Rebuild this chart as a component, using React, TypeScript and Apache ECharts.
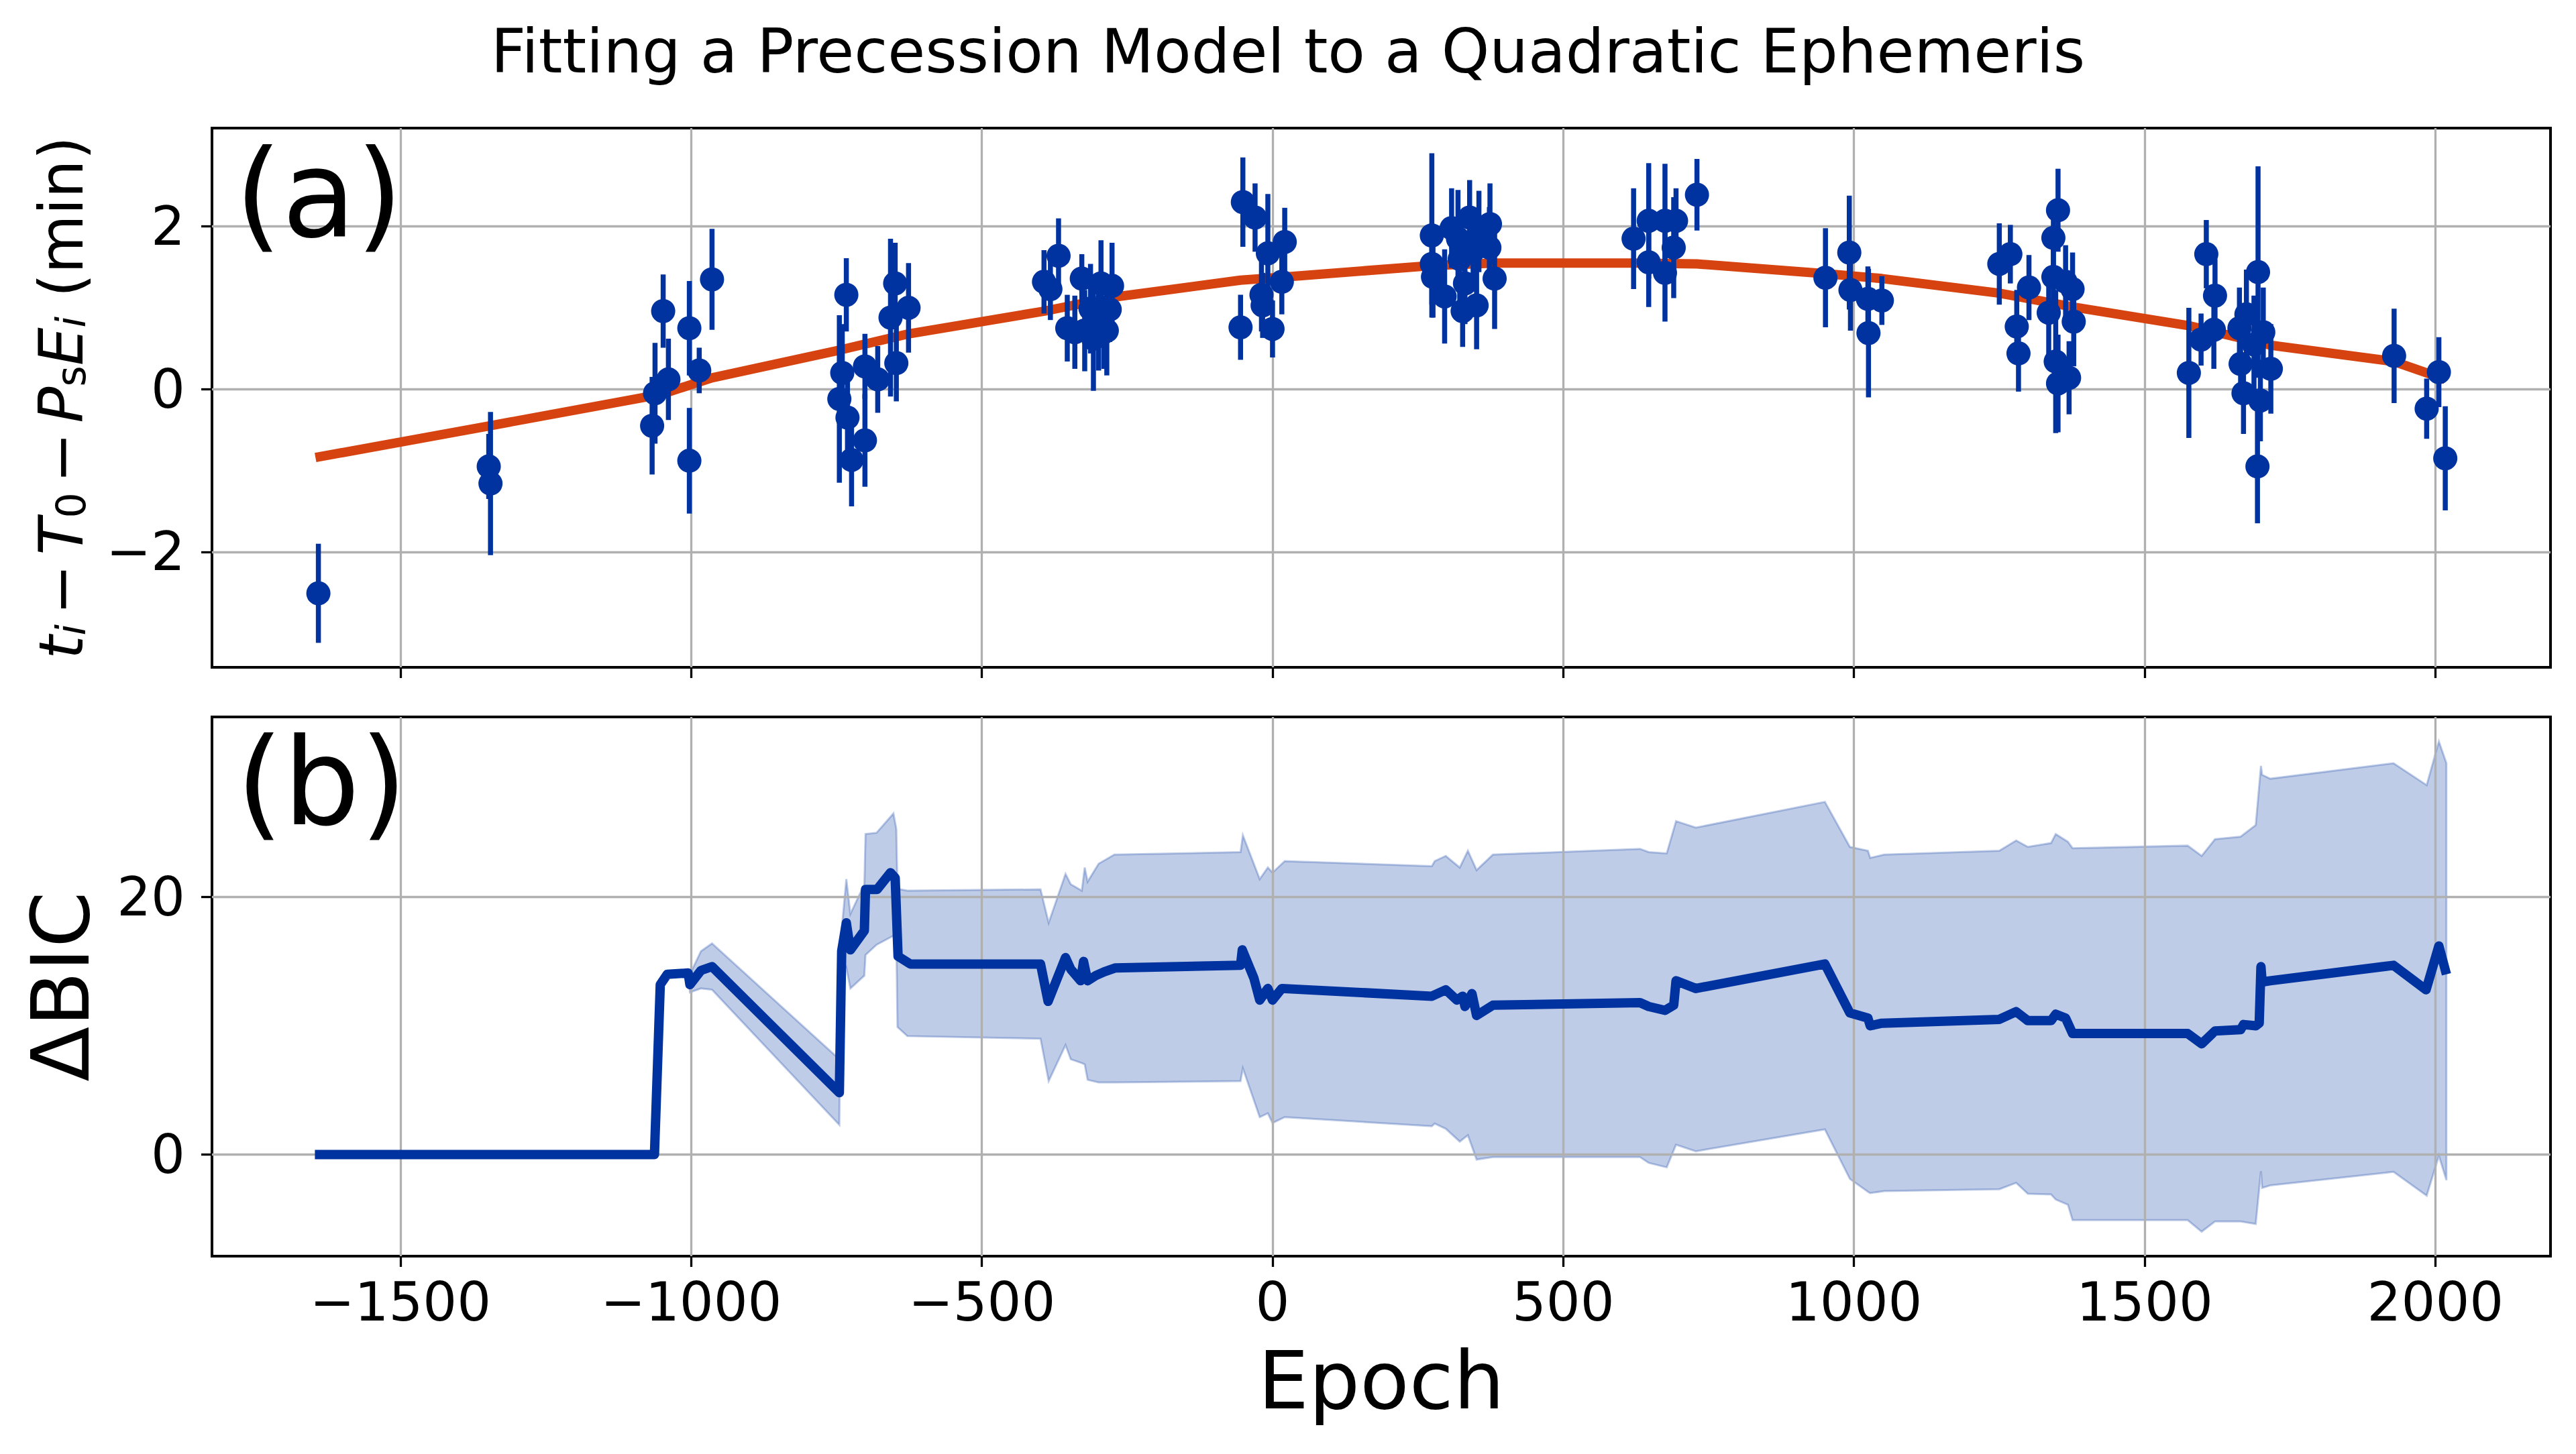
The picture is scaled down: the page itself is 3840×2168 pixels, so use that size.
import React, { useEffect, useRef } from 'react';
import * as echarts from 'echarts';

// Transit-time residuals: epoch, residual (min) and 1-sigma uncertainty (min)
const ttvEpoch = [
  -1641, -1348, -1345, -1067, -1062, -1048, -1039, -1003, -1003, -986, -964,
  -745, -740, -733, -731, -724, -701, -701, -679, -657, -649, -647, -626,
  -393, -382, -368, -353, -340, -328, -323, -313, -308, -299, -295, -290, -285, -280, -276,
  -55, -51, -30, -19, -17, -8, 0, 16, 21,
  274, 274, 276, 296, 308, 319, 322, 327, 331, 339, 345, 351, 355, 373, 374, 382,
  621, 647, 647, 675, 675, 690, 694, 730,
  951, 992, 994, 1024, 1025, 1048,
  1250, 1269, 1280, 1283, 1301, 1335, 1343, 1343, 1347, 1351, 1351, 1364, 1370, 1376, 1378,
  1576, 1597, 1606, 1619, 1621, 1663, 1665, 1670, 1675, 1688, 1694, 1695, 1699, 1704, 1717,
  1929, 1985, 2006, 2017,
];
const ttvResid = [
  -2.51, -0.95, -1.16, -0.45, -0.05, 0.96, 0.12, 0.75, -0.88, 0.23, 1.35,
  -0.12, 0.2, 1.16, -0.35, -0.87, 0.28, -0.63, 0.12, 0.88, 1.3, 0.32, 1.0,
  1.32, 1.23, 1.64, 0.75, 0.7, 1.36, 0.72, 0.99, 0.62, 0.83, 1.3, 0.7, 0.72, 0.98, 1.27,
  0.76, 2.3, 2.11, 1.16, 1.03, 1.67, 0.74, 1.32, 1.81,
  1.89, 1.54, 1.38, 1.14, 1.98, 1.85, 1.6, 0.96, 1.3, 2.11, 1.7, 1.03, 1.94, 1.74, 2.03, 1.36,
  1.85, 2.07, 1.56, 2.07, 1.43, 1.74, 2.07, 2.39,
  1.37, 1.68, 1.22, 1.11, 0.69, 1.09,
  1.54, 1.66, 0.77, 0.44, 1.25, 0.94, 1.86, 1.38, 0.34, 2.2, 0.07, 1.32, 0.14, 1.23, 0.83,
  0.2, 0.61, 1.66, 0.73, 1.15, 0.75, 0.31, -0.05, 0.92, 0.55, -0.95, 1.44, -0.14, 0.7, 0.25,
  0.41, -0.24, 0.21, -0.85,
];
const ttvErr = [
  0.61, 0.4, 0.88, 0.6, 0.62, 0.45, 0.5, 0.58, 0.65, 0.28, 0.62,
  1.03, 0.6, 0.45, 0.55, 0.57, 0.4, 0.57, 0.41, 0.97, 0.5, 0.47, 0.55,
  0.39, 0.38, 0.46, 0.41, 0.45, 0.3, 0.5, 0.55, 0.64, 0.6, 0.53, 0.45, 0.55, 0.4, 0.53,
  0.4, 0.55, 0.42, 0.45, 0.4, 0.73, 0.35, 0.4, 0.42,
  1.01, 0.5, 0.5, 0.58, 0.49, 0.6, 0.55, 0.44, 0.5, 0.46, 0.5, 0.54, 0.5, 0.5, 0.5, 0.62,
  0.62, 0.71, 0.55, 0.7, 0.6, 0.62, 0.4, 0.44,
  0.61, 0.7, 0.5, 0.4, 0.79, 0.3,
  0.5, 0.36, 0.45, 0.47, 0.4, 0.55, 0.4, 0.5, 0.88, 0.51, 0.6, 0.45, 0.45, 0.45, 0.55,
  0.8, 0.32, 0.42, 0.48, 0.45, 0.5, 0.45, 0.5, 0.55, 0.6, 0.7, 1.3, 0.5, 0.55, 0.55,
  0.58, 0.37, 0.43, 0.64,
];

// Best-fit precession model evaluated at the observed epochs
const modelEpoch = [
  -1646, -1346, -1050, -964, -745, -626, -392, -275, -55, 21, 274, 382,
  621, 730, 950, 1048, 1250, 1378, 1576, 1717, 1929, 2017,
];
const modelResid = [
  -0.84, -0.45, -0.06, 0.14, 0.48, 0.68, 0.96, 1.13, 1.34, 1.38, 1.52, 1.55,
  1.55, 1.54, 1.42, 1.36, 1.18, 1.01, 0.78, 0.54, 0.34, 0.12,
];

// Running ΔBIC as epochs are added
const bicEpoch = [
  -1647, -1063, -1053, -1041, -1005, -1002, -983, -964, -745, -741, -733, -726, -702, -700,
  -680, -657, -649, -644, -623, -399, -386, -356, -347, -330, -325, -318, -304, -289, -270,
  -55, -52, -32, -22, -8, 0, 16, 274, 298, 317, 327, 331, 343, 351, 379, 632, 647, 675, 690,
  694, 728, 950, 993, 1024, 1028, 1048, 1250, 1279, 1299, 1339, 1347, 1364, 1376, 1574, 1598,
  1621, 1665, 1670, 1691, 1697, 1700, 1702, 1716, 1928, 1984, 2006, 2019,
];
const bicValue = [
  0, 0, 13.2, 14.0, 14.1, 13.2, 14.3, 14.6, 4.8, 15.8, 18.0, 15.9, 17.4, 20.6,
  20.6, 21.9, 21.5, 15.4, 14.8, 14.8, 11.9, 15.3, 14.4, 13.5, 15.0, 13.5, 13.9, 14.2, 14.5,
  14.7, 15.9, 13.7, 12.0, 12.9, 12.0, 12.9, 12.3, 12.8, 12.0, 12.3, 11.5, 12.5, 10.8, 11.6, 11.8, 11.5, 11.2, 11.6,
  13.5, 12.9, 14.8, 11.0, 10.6, 10.0, 10.2, 10.5, 11.1, 10.4, 10.4, 10.9, 10.6, 9.4, 9.4, 8.6,
  9.6, 9.7, 10.1, 10.0, 10.2, 14.6, 13.4, 13.5, 14.7, 12.8, 16.2, 14.0,
];

// ΔBIC uncertainty envelope
const bandEpoch = [
  -1063, -1053, -1041, -1005, -1002, -983, -964, -745, -743, -733, -726, -702, -700, -681,
  -652, -647, -645, -628, -399, -385, -356, -347, -328, -323, -318, -299, -272, -55, -51,
  -22, -8, 0, 21, 274, 279, 298, 322, 336, 351, 379, 632, 647, 678, 694, 728, 950, 993,
  1024, 1028, 1052, 1250, 1279, 1299, 1339, 1347, 1368, 1376, 1574, 1598, 1621, 1665, 1691,
  1700, 1702, 1716, 1928, 1985, 2006, 2019,
];
const bandLow = [
  0, 13.2, 14.0, 14.1, 12.6, 12.9, 12.8, 2.3, 13.5, 14.5, 12.9, 13.9, 15.5, 16.3,
  17.0, 16.5, 9.9, 9.2, 9.0, 5.7, 8.5, 7.4, 7.1, 7.0, 5.8, 5.6, 5.6, 5.7, 6.7,
  2.9, 3.2, 2.45, 2.9, 2.2, 2.4, 2.0, 1.0, 1.5, -0.4, -0.2, -0.2, -0.65, -1.0, 0.76, 0.25, 1.95, -1.9,
  -2.9, -3.0, -2.85, -2.7, -2.2, -3.05, -3.1, -3.5, -3.9, -5.1, -5.1, -6.0, -5.2, -5.2, -5.4,
  -1.3, -2.6, -2.4, -1.35, -3.2, -0.1, -2.0,
];
const bandHigh = [
  0, 13.2, 14.0, 14.1, 14.0, 15.8, 16.4, 7.4, 16.5, 21.4, 18.7, 21.0, 24.9, 25.0,
  26.5, 25.3, 20.65, 20.5, 20.6, 18.0, 21.8, 21.0, 20.5, 22.3, 21.2, 22.6, 23.3, 23.5, 24.8,
  21.4, 22.3, 21.9, 22.8, 22.4, 22.8, 23.2, 22.3, 23.6, 22.1, 23.3, 23.75, 23.5, 23.4, 25.9, 25.4, 27.4, 23.9,
  23.6, 23.05, 23.3, 23.6, 24.4, 23.9, 24.2, 24.9, 24.3, 23.8, 24.0, 23.2, 24.5, 24.7, 25.6,
  30.2, 29.5, 29.2, 30.4, 28.7, 32.1, 30.4,
];

// Axis ranges and tick positions
const epochRange = [-1824, 2198];
const ttvRange = [-3.42, 3.21];
const bicRange = [-7.9, 34.0];
const epochTicks = [-1500, -1000, -500, 0, 500, 1000, 1500, 2000];
const ttvTicks = [-2, 0, 2];
const bicTicks = [0, 20];

const BLUE = '#0033a0';
const ORANGE = '#d64310';
const FONT = 'DejaVu Sans';

const minusFmt = (v: number) => String(v).replace('-', '\u2212');

function xAxisFor(gridIndex: number, withLabels: boolean) {
  return {
    type: 'value',
    gridIndex,
    min: epochRange[0],
    max: epochRange[1],
    axisLine: { show: false, onZero: false },
    axisTick: {
      show: true,
      customValues: epochTicks,
      length: 16,
      lineStyle: { color: '#000', width: 3.3 },
    },
    axisLabel: {
      show: withLabels,
      customValues: epochTicks,
      formatter: minusFmt,
      margin: 28,
      color: '#000',
      fontFamily: FONT,
      fontSize: 80,
      lineHeight: 80,
    },
    splitLine: { show: true, lineStyle: { color: '#b0b0b0', width: 3.3 } },
    name: withLabels ? 'Epoch' : '',
    nameLocation: 'middle',
    nameGap: 125,
    nameMoveOverlap: false,
    nameTextStyle: { color: '#000', fontFamily: FONT, fontSize: 120, lineHeight: 120 },
  };
}

function yAxisFor(gridIndex: number, range: number[], ticks: number[], name: string, nameGap: number, nameTextStyle: any) {
  return {
    type: 'value',
    gridIndex,
    min: range[0],
    max: range[1],
    axisLine: { show: false, onZero: false },
    axisTick: {
      show: true,
      customValues: ticks,
      length: 16,
      lineStyle: { color: '#000', width: 3.3 },
    },
    axisLabel: {
      show: true,
      customValues: ticks,
      formatter: minusFmt,
      margin: 40,
      color: '#000',
      fontFamily: FONT,
      fontSize: 80,
      lineHeight: 80,
    },
    splitLine: { show: true, lineStyle: { color: '#b0b0b0', width: 3.3 } },
    name,
    nameLocation: 'middle',
    nameRotate: 90,
    nameGap,
    nameMoveOverlap: false,
    nameTextStyle,
  };
}

export default function App() {
  const ref = useRef<HTMLDivElement>(null);

  useEffect(() => {
    if (!ref.current) return;
    const chart = echarts.init(ref.current, undefined, { renderer: 'svg' });

    const pointData = ttvEpoch.map((e, i) => [e, ttvResid[i], ttvErr[i]]);
    const modelData = modelEpoch.map((e, i) => [e, modelResid[i]]);
    const bicData = bicEpoch.map((e, i) => [e, bicValue[i]]);
    const bandData = bandEpoch.map((e, i) => [e, bandLow[i], bandHigh[i]]);

    const mainTxt = { color: '#000', fontFamily: FONT, fontSize: 90, lineHeight: 90 };
    const subTxt = { color: '#000', fontFamily: FONT, fontSize: 60, lineHeight: 40, verticalAlign: 'bottom' };

    const option: any = {
      animation: false,
      backgroundColor: '#ffffff',
      textStyle: { fontFamily: FONT },
      grid: [
        {
          left: 316, top: 191, width: 3486, height: 804,
          show: true, borderColor: '#000', borderWidth: 4, backgroundColor: 'transparent',
          containLabel: false, outerBoundsMode: 'none',
        },
        {
          left: 316, top: 1069, width: 3486, height: 804,
          show: true, borderColor: '#000', borderWidth: 4, backgroundColor: 'transparent',
          containLabel: false, outerBoundsMode: 'none',
        },
      ],
      xAxis: [xAxisFor(0, false), xAxisFor(1, true)],
      yAxis: [
        yAxisFor(
          0, ttvRange, ttvTicks,
          '{i|t}{si|i}{m|\u2212}{i|T}{s|0}{m|\u2212}{i|P}{s|s}{i|E}{si|i}{n| (min)}',
          180,
          {
            rich: {
              i: { ...mainTxt, fontStyle: 'italic' },
              n: { ...mainTxt },
              m: { ...mainTxt, padding: [0, 14, 0, 14] },
              si: { ...subTxt, fontStyle: 'italic' },
              s: { ...subTxt },
            },
          },
        ),
        yAxisFor(1, bicRange, bicTicks, '\u0394BIC', 166, {
          color: '#000', fontFamily: FONT, fontSize: 120, lineHeight: 120,
        }),
      ],
      graphic: [
        {
          type: 'text', x: 1920, y: 76, z: 10,
          style: {
            text: 'Fitting a Precession Model to a Quadratic Ephemeris',
            fill: '#000', fontFamily: FONT, fontSize: 91, lineHeight: 91,
            align: 'center', verticalAlign: 'middle',
          },
        },
        {
          type: 'text', x: 350, y: 289, z: 10,
          style: {
            text: '(a)', fill: '#000', fontFamily: FONT, fontSize: 180, lineHeight: 180,
            align: 'left', verticalAlign: 'middle',
          },
        },
        {
          type: 'text', x: 352, y: 1166, z: 10,
          style: {
            text: '(b)', fill: '#000', fontFamily: FONT, fontSize: 180, lineHeight: 180,
            align: 'left', verticalAlign: 'middle',
          },
        },
      ],
      series: [
        // precession model curve
        {
          type: 'line',
          xAxisIndex: 0,
          yAxisIndex: 0,
          data: modelData,
          showSymbol: false,
          symbol: 'none',
          z: 2,
          lineStyle: { color: ORANGE, width: 14, join: 'round' },
        },
        // error bars
        {
          type: 'custom',
          xAxisIndex: 0,
          yAxisIndex: 0,
          data: pointData,
          encode: { x: 0, y: 1 },
          z: 3,
          renderItem: (_params: any, api: any) => {
            const x = api.value(0);
            const y = api.value(1);
            const e = api.value(2);
            const p1 = api.coord([x, y + e]);
            const p2 = api.coord([x, y - e]);
            return {
              type: 'line',
              shape: { x1: p1[0], y1: p1[1], x2: p2[0], y2: p2[1] },
              style: { stroke: BLUE, lineWidth: 7.5 },
            };
          },
        },
        // measured residuals
        {
          type: 'scatter',
          xAxisIndex: 0,
          yAxisIndex: 0,
          data: pointData.map((d) => [d[0], d[1]]),
          symbol: 'circle',
          symbolSize: 36,
          z: 4,
          itemStyle: { color: BLUE, opacity: 1 },
        },
        // ΔBIC envelope (drawn beneath the grid lines)
        {
          type: 'custom',
          xAxisIndex: 1,
          yAxisIndex: 1,
          data: bandData,
          encode: { x: 0, y: [1, 2] },
          z: -1,
          renderItem: (params: any, api: any) => {
            if (params.dataIndex !== 0) return null;
            const upper = bandEpoch.map((e, i) => api.coord([e, bandHigh[i]]));
            const lower = bandEpoch.map((e, i) => api.coord([e, bandLow[i]])).reverse();
            return {
              type: 'polygon',
              shape: { points: upper.concat(lower) },
              style: {
                fill: 'rgba(0,51,160,0.25)',
                stroke: 'rgba(0,51,160,0.25)',
                lineWidth: 3,
              },
            };
          },
        },
        // ΔBIC curve
        {
          type: 'line',
          xAxisIndex: 1,
          yAxisIndex: 1,
          data: bicData,
          showSymbol: false,
          symbol: 'none',
          z: 3,
          lineStyle: { color: BLUE, width: 14, join: 'round' },
        },
      ],
    };

    chart.setOption(option);
    return () => {
      chart.dispose();
    };
  }, []);

  return (
    <div
      ref={ref}
      style={{ position: 'fixed', left: 0, top: 0, width: 3840, height: 2168, background: '#fff' }}
    />
  );
}
